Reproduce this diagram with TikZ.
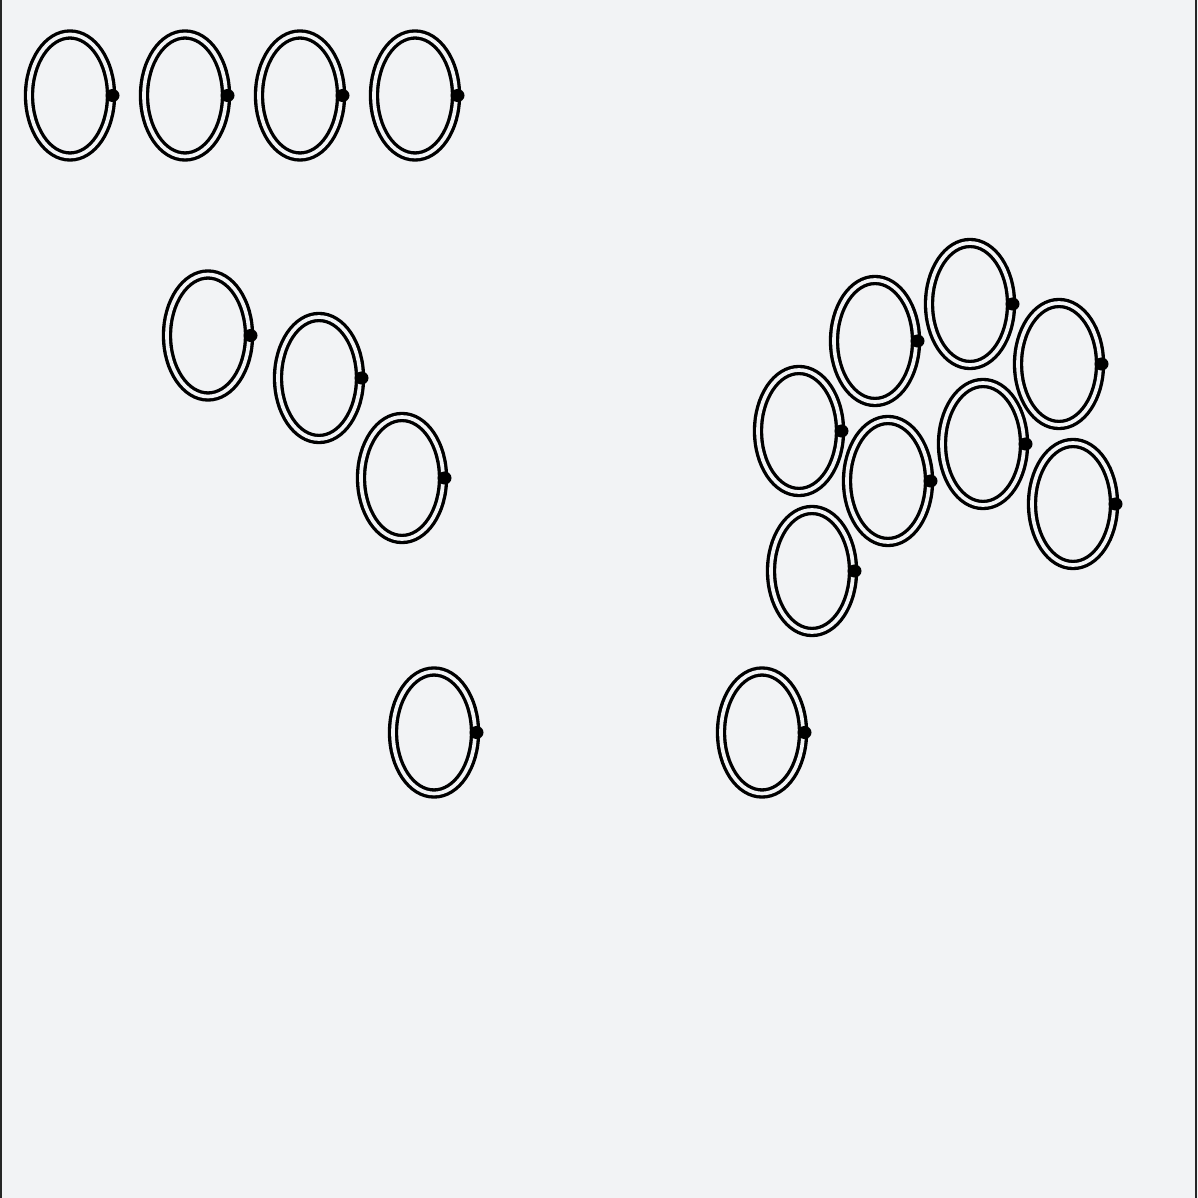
\documentclass[tikz,border=0pt]{standalone}
\usepackage{tikz}
\tikzset{>=latex}
\usetikzlibrary{calc}
\definecolor{paper}{RGB}{242,243,245}
\tikzset{ring/.style = {draw=black, double=paper, line width=0.95pt, double distance=1.05pt}}
\tikzset{frame/.style = {draw=black!85, line width=0.57pt}}
\newcommand{\ringat}[1]{
   \draw[ring] (#1) ellipse (41 and 61);
   \fill[black] ($ (#1) + (42.5,0) $) ellipse (7 and 6.5);
}

\begin{document}
\begin{tikzpicture}[x=0.01cm, y=-0.01cm]
		% Paper
		\fill[paper] (0,0) rectangle (1198,1198);
		\useasboundingbox (0,0) rectangle (1198,1198);
		\draw[frame] (1,0) -- (1,1198);
		\draw[frame] (1196,0) -- (1196,1198);
		
		% Top row
		\foreach \x in {70,185,300,415}
		{
			\ringat{\x,95.5}
		}
		
		% Diagonal
		\ringat{208,335.5}
		\ringat{319,378}
		\ringat{402,478}
		
		% Bottom pair
		\ringat{434,732.5}
		\ringat{762,732.5}
		
		% Cluster
		\ringat{875,341}
		\ringat{970,304}
		\ringat{1059,364}
		\ringat{799,431}
		\ringat{888,481}
		\ringat{983,444}
		\ringat{1073,504}
		\ringat{812,571}
	\end{tikzpicture}
\end{document}
